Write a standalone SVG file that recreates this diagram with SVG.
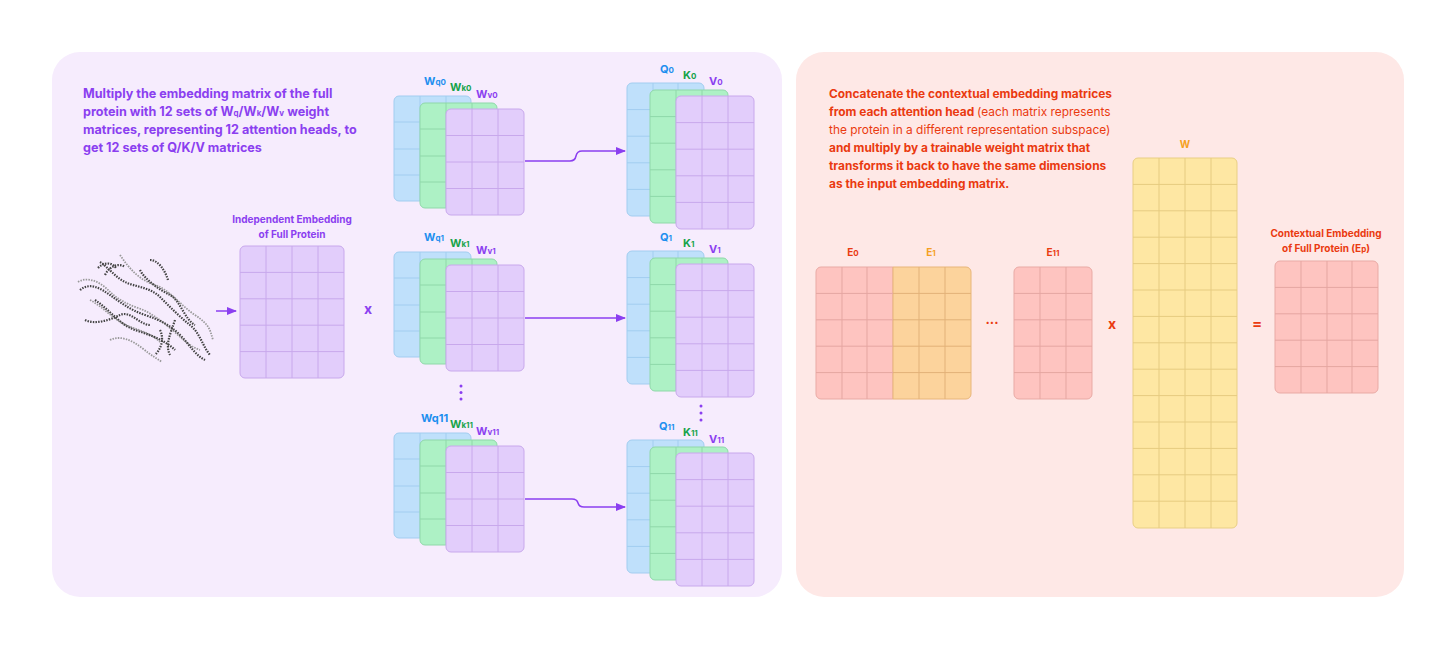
<svg xmlns="http://www.w3.org/2000/svg" xmlns:xlink="http://www.w3.org/1999/xlink" width="1456" height="650" viewBox="0 0 1456 650">
<style>
text{font-family:Inter,"Noto Sans","Liberation Sans",sans-serif;font-weight:700}
.b{fill:#bfe0fb;stroke:#a2cdf0}
.g{fill:#adf1c5;stroke:#8fd8a9}
.p{fill:#e2cdfb;stroke:#c8a8ec}
.r{fill:#fec4c0;stroke:#e9aaa5}
.o{fill:#fcd39c;stroke:#e8b67a}
.y{fill:#fee7a3;stroke:#e9cf84}
.gb{stroke:#a2cdf0;fill:none}
.gg{stroke:#8fd8a9;fill:none}
.gp{stroke:#c8a8ec;fill:none}
.gr{stroke:#e5a6a1;fill:none}
.go{stroke:#e2b178;fill:none}
.gy{stroke:#e6cb80;fill:none}
.lb{fill:#1d8fef;font-size:11px}
.lg{fill:#17a34a;font-size:11px}
.lp{fill:#8b3ff0;font-size:11px}
.sm{font-size:10px}
.s{font-size:8px}
.pt{fill:#8b3ff0;font-size:12.6px}
.rt{fill:#ea3a10;font-size:11.9px}
.n{font-weight:400}
.con{stroke:#8b3ff0;stroke-width:1.5;fill:none}
.prot{fill:none;stroke:#444;stroke-width:2.2;stroke-dasharray:1.5 1.2}
.prot2{fill:none;stroke:#999;stroke-width:1.8;stroke-dasharray:1.5 1.2}
</style>
<defs>
<marker id="ah" viewBox="0 0 10 10" refX="9" refY="5" markerWidth="7" markerHeight="7" orient="auto"><path d="M0 1L10 5L0 9z" fill="#8b3ff0"/></marker>
<g id="wset">
<rect class="b" x="0" y="0" width="77" height="105" rx="5"/>
<path class="gb" d="M26 0V105M52 0V105M0 26H77M0 53H77M0 79H77"/>
<rect class="g" x="26" y="7" width="77" height="105" rx="5"/>
<path class="gg" d="M52 7V112M78 7V112M26 33H103M26 60H103M26 86H103"/>
<rect class="p" x="52" y="13" width="78" height="106" rx="5"/>
<path class="gp" d="M78 13V119M104 13V119M52 39.5H130M52 66H130M52 92.5H130"/>
</g>
<g id="qset">
<rect class="b" x="0" y="0" width="77" height="133" rx="5"/>
<path class="gb" d="M26 0V133M51 0V133M0 26.6H77M0 53.2H77M0 79.8H77M0 106.4H77"/>
<rect class="g" x="23" y="7" width="78" height="133" rx="5"/>
<path class="gg" d="M49 7V140M75 7V140M23 33.6H101M23 60.2H101M23 86.8H101M23 113.4H101"/>
<rect class="p" x="49" y="13" width="78" height="133" rx="5"/>
<path class="gp" d="M75 13V146M101 13V146M49 39.6H127M49 66.2H127M49 92.8H127M49 119.4H127"/>
</g>
</defs>
<rect x="52" y="52" width="730" height="545" rx="28" fill="#f6ecfd"/>
<rect x="796" y="52" width="608" height="545" rx="28" fill="#fee8e6"/>

<g id="left-text">
<text class="pt" x="83" y="98">Multiply the embedding matrix of the full</text>
<text class="pt" x="83" y="116">protein with 12 sets of W<tspan class="s">q</tspan>/W<tspan class="s">k</tspan>/W<tspan class="s">v</tspan> weight</text>
<text class="pt" x="83" y="134">matrices, representing 12 attention heads, to</text>
<text class="pt" x="83" y="152">get 12 sets of Q/K/V matrices</text>
</g>

<g id="protein">
<path class="prot2" d="M78 282c10-6 22 0 30 8s18 14 30 18 22 12 32 20 18 18 30 22"/>
<path class="prot2" d="M90 300c12 6 22 18 34 24s26 8 36 18M110 340c10-5 22 0 32 8s14 10 20 14"/>
<path class="prot" d="M80 290c10-8 20-2 30 5s20 15 35 20 25 10 35 20 15 20 25 25"/>
<path class="prot" d="M100 262c8 5 15 15 25 20s25 5 35 15 20 20 30 28 12 20 20 30"/>
<path class="prot" d="M95 300c15 10 25 25 40 30s30 10 40 20"/>
<path class="prot2" d="M120 255c10 15 20 25 35 30s25 20 40 30 15 15 18 25"/>
<path class="prot" d="M140 270c5 10 20 20 30 25s15 25 25 30"/>
<path class="prot" d="M85 320c10 5 25 0 35-5s20 10 30 10M160 330c5 10 0 20-5 25M175 320c-5 15-10 25-5 35"/>
<path class="prot" d="M105 275c5-10 15-12 20-8M150 260c8 0 15 10 18 20M98 268c6-6 14-6 18 0"/>
</g>

<g id="ind-emb">
<text class="lp sm" x="292" y="223" text-anchor="middle">Independent Embedding</text>
<text class="lp sm" x="292" y="238" text-anchor="middle">of Full Protein</text>
<rect class="p" x="240" y="246" width="104" height="132" rx="5"/>
<path class="gp" d="M266 246V378M292 246V378M318 246V378M240 272.4H344M240 298.8H344M240 325.2H344M240 351.6H344"/>
</g>
<text x="368" y="314" fill="#8b3ff0" style="font-size:14px" text-anchor="middle">x</text>

<g id="w0">
<use xlink:href="#wset" href="#wset" x="394" y="96"/>
<text class="lb" x="424" y="85">W<tspan class="s">q0</tspan></text>
<text class="lg" x="450" y="91">W<tspan class="s">k0</tspan></text>
<text class="lp" x="476" y="98">W<tspan class="s">v0</tspan></text>
</g>
<g id="w1">
<use xlink:href="#wset" href="#wset" x="394" y="252"/>
<text class="lb" x="424" y="241">W<tspan class="s">q1</tspan></text>
<text class="lg" x="450" y="247">W<tspan class="s">k1</tspan></text>
<text class="lp" x="476" y="254">W<tspan class="s">v1</tspan></text>
</g>
<g id="w11">
<use xlink:href="#wset" href="#wset" x="394" y="433"/>
<text class="lb" x="421" y="422">Wq11</text>
<text class="lg" x="450" y="428">W<tspan class="s">k11</tspan></text>
<text class="lp" x="476" y="435">W<tspan class="s">v11</tspan></text>
</g>
<g id="dots-w" fill="#8b3ff0"><circle cx="461" cy="386" r="1.5"/><circle cx="461" cy="392.5" r="1.5"/><circle cx="461" cy="399" r="1.5"/></g>

<g id="q0">
<use xlink:href="#qset" href="#qset" x="627" y="83"/>
<text class="lb" x="660" y="73">Q<tspan class="s">0</tspan></text>
<text class="lg" x="683" y="79">K<tspan class="s">0</tspan></text>
<text class="lp" x="709" y="85">V<tspan class="s">0</tspan></text>
</g>
<g id="q1">
<use xlink:href="#qset" href="#qset" x="627" y="251"/>
<text class="lb" x="660" y="241">Q<tspan class="s">1</tspan></text>
<text class="lg" x="683" y="247">K<tspan class="s">1</tspan></text>
<text class="lp" x="709" y="253">V<tspan class="s">1</tspan></text>
</g>
<g id="q11">
<use xlink:href="#qset" href="#qset" x="627" y="440"/>
<text class="lb" x="659" y="430">Q<tspan class="s">11</tspan></text>
<text class="lg" x="683" y="436">K<tspan class="s">11</tspan></text>
<text class="lp" x="709" y="443">V<tspan class="s">11</tspan></text>
</g>
<g id="dots-q" fill="#8b3ff0"><circle cx="701" cy="406" r="1.5"/><circle cx="701" cy="413" r="1.5"/><circle cx="701" cy="420" r="1.5"/></g>

<g id="connectors">
<path class="con" d="M216 311H236" marker-end="url(#ah)"/>
<path class="con" d="M525 161H570q5 0 6-5q1-5 6-5H625" marker-end="url(#ah)"/>
<path class="con" d="M525 318H625" marker-end="url(#ah)"/>
<path class="con" d="M525 499H572q5 0 6 4q1 4 6 4H625" marker-end="url(#ah)"/>
</g>

<g id="right-text">
<text class="rt" x="829" y="98">Concatenate the contextual embedding matrices</text>
<text class="rt" x="829" y="116">from each attention head <tspan class="n">(each matrix represents</tspan></text>
<text class="rt n" x="829" y="134">the protein in a different representation subspace)</text>
<text class="rt" x="829" y="152">and multiply by a trainable weight matrix that</text>
<text class="rt" x="829" y="170">transforms it back to have the same dimensions</text>
<text class="rt" x="829" y="188">as the input embedding matrix.</text>
</g>

<g id="e0e1">
<text x="853" y="256" fill="#ea3a10" font-size="10" text-anchor="middle">E<tspan class="s">0</tspan></text>
<text x="931" y="256" fill="#f5a020" font-size="10" text-anchor="middle">E<tspan class="s">1</tspan></text>
<path class="r" d="M821 267H893V399H821a5 5 0 0 1-5-5V272a5 5 0 0 1 5-5z"/>
<path class="o" d="M893 267H966a5 5 0 0 1 5 5V394a5 5 0 0 1-5 5H893z"/>
<path class="gr" d="M842 267V399M867 267V399M816 293.4H893M816 319.8H893M816 346.2H893M816 372.6H893"/>
<path class="go" d="M919 267V399M945 267V399M893 293.4H971M893 319.8H971M893 346.2H971M893 372.6H971"/>
</g>
<text x="992" y="327" fill="#ea3a10" font-size="13" text-anchor="middle">···</text>
<g id="e11">
<text x="1053" y="256" fill="#ea3a10" font-size="10" text-anchor="middle">E<tspan class="s">11</tspan></text>
<rect class="r" x="1014" y="267" width="78" height="132" rx="5"/>
<path class="gr" d="M1040 267V399M1066 267V399M1014 293.4H1092M1014 319.8H1092M1014 346.2H1092M1014 372.6H1092"/>
</g>
<text x="1112" y="329" fill="#ea3a10" font-size="14" text-anchor="middle">x</text>
<g id="w">
<text x="1185" y="148" fill="#f5a020" font-size="10" text-anchor="middle">W</text>
<rect class="y" x="1133" y="158" width="104" height="370" rx="5"/>
<path class="gy" d="M1159 158V528M1185 158V528M1211 158V528M1133 184.4H1237M1133 210.8H1237M1133 237.2H1237M1133 263.6H1237M1133 290H1237M1133 316.4H1237M1133 342.8H1237M1133 369.2H1237M1133 395.6H1237M1133 422H1237M1133 448.4H1237M1133 474.8H1237M1133 501.2H1237"/>
</g>
<text x="1257" y="329" fill="#ea3a10" font-size="15" text-anchor="middle">=</text>
<g id="ep">
<text x="1326" y="237" fill="#ea3a10" font-size="10" text-anchor="middle">Contextual Embedding</text>
<text x="1326" y="252" fill="#ea3a10" font-size="10" text-anchor="middle">of Full Protein (E<tspan class="s">p</tspan>)</text>
<rect class="r" x="1275" y="261" width="103" height="132" rx="5"/>
<path class="gr" d="M1301 261V393M1327 261V393M1352 261V393M1275 287.4H1378M1275 313.8H1378M1275 340.2H1378M1275 366.6H1378"/>
</g>
</svg>
